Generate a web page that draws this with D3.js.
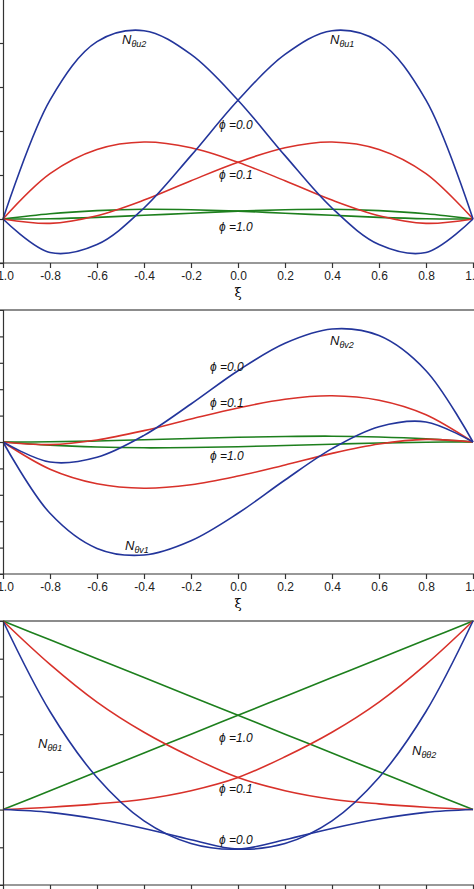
<!DOCTYPE html>
<html><head><meta charset="utf-8">
<script src="https://cdn.jsdelivr.net/npm/d3@7"></script>
<style>body{margin:0;background:#fff}svg{display:block}</style>
</head><body>
<script>
const xi = [-1,-0.8,-0.6,-0.4,-0.2,0,0.2,0.4,0.6,0.8,1];
const xTicks = [-1,-0.8,-0.6,-0.4,-0.2,0,0.2,0.4,0.6,0.8,1];
// panel 1 : N_theta_u2 (N_theta_u1 is its mirror)
const u2_phi00 = [0,0.27,0.403,0.428,0.374,0.27,0.144,0.025,-0.058,-0.076,0];
const u2_phi01 = [0,0.103,0.158,0.175,0.162,0.129,0.087,0.043,0.0075,-0.0099,0];
const u2_phi10 = [0,0.012,0.019,0.022,0.021,0.018,0.013,0.0084,0.0038,0.0007,0];
const u1_phi00 = u2_phi00.slice().reverse();
const u1_phi01 = u2_phi01.slice().reverse();
const u1_phi10 = u2_phi10.slice().reverse();
// panel 2
const v2_phi00 = u1_phi00, v2_phi01 = u1_phi01, v2_phi10 = u1_phi10;
const v1_phi00 = u2_phi00.map(v=>-v), v1_phi01 = u2_phi01.map(v=>-v), v1_phi10 = u2_phi10.map(v=>-v);
// panel 3
const t1_phi00 = [1,0.52,0.17,-0.06,-0.18,-0.21,-0.16,-0.1,-0.05,-0.015,0];
const t1_phi01 = [1,0.77,0.57,0.41,0.28,0.17,0.1,0.055,0.03,0.012,0];
const t1_phi10 = [1,0.9,0.8,0.7,0.6,0.5,0.4,0.3,0.2,0.1,0];
const t2_phi00 = t1_phi00.slice().reverse(), t2_phi01 = t1_phi01.slice().reverse(), t2_phi10 = t1_phi10.slice().reverse();
const yTicks1 = [-0.1,0,0.1,0.2,0.3,0.4];
const yTicks2 = [-0.4,-0.3,-0.2,-0.1,0,0.1,0.2,0.3,0.4];
const yTicks3 = [-0.2,0,0.2,0.4,0.6,0.8];

const BLUE="#23359b", RED="#d8312a", GREEN="#1d7f1d", AX="#333";
const svg=d3.select("body").append("svg").attr("width",474).attr("height",889);
const x=d3.scaleLinear().domain([-1,1]).range([3,473]);
const fmt=d=>d3.format(".1f")(d).replace("−","-");

function panel(cfg){
  const y=d3.scaleLinear().domain(cfg.dom).range(cfg.rng);
  const g=svg.append("g");
  if(cfg.top) g.append("line").attr("x1",0).attr("x2",474).attr("y1",cfg.rng[1]).attr("y2",cfg.rng[1]).attr("stroke","#666").attr("stroke-width",1.5);
  const line=d3.line().x((d,i)=>x(xi[i])).y(d=>y(d)).curve(d3.curveCatmullRom);
  cfg.series.forEach(s=>g.append("path").attr("d",line(s[0])).attr("fill","none").attr("stroke",s[1]).attr("stroke-width",1.6));
  const ya=g.append("g").attr("transform","translate(3,0)").call(d3.axisLeft(y).tickValues(cfg.yt).tickSize(5).tickFormat(""));
  const xa=g.append("g").attr("transform",`translate(0,${cfg.rng[0]})`).call(d3.axisBottom(x).tickValues(xTicks).tickSize(5).tickFormat(fmt));
  [ya,xa].forEach(a=>{a.selectAll("path,line").attr("stroke",AX).attr("stroke-width",1.2);a.selectAll("text").attr("font-family","Liberation Sans, Arial").attr("font-size",12).attr("fill","#222");});
  xa.select(".domain").attr("d",`M0,0H474`);
  if(!cfg.xlabels) xa.selectAll("text").remove();
  if(cfg.xlabels) g.append("text").attr("x",238).attr("y",cfg.rng[0]+34).attr("text-anchor","middle").attr("font-family","DejaVu Serif").attr("font-size",13).text("ξ");
  cfg.labels.forEach(l=>{
    const t=g.append("text").attr("x",l[0]).attr("y",l[1]).attr("font-family","Liberation Sans, Arial").attr("font-style","italic").attr("fill","#111");
    if(l[2]==="N"){t.attr("font-size",13).append("tspan").text("N");t.append("tspan").attr("font-size",9).attr("dy",3).text(l[3]);}
    else t.attr("font-size",12).text("ϕ ="+l[3]);
  });
}
panel({dom:[-0.1,0.5],rng:[263,-1],yt:yTicks1,xlabels:true,top:false,
  series:[[u2_phi10,GREEN],[u1_phi10,GREEN],[u2_phi01,RED],[u1_phi01,RED],[u2_phi00,BLUE],[u1_phi00,BLUE]],
  labels:[[122,44,"N","θu2"],[330,44,"N","θu1"],[219,129,"p","0.0"],[219,179,"p","0.1"],[219,231,"p","1.0"]]});
panel({dom:[-0.5,0.5],rng:[574,310],yt:yTicks2,xlabels:true,top:true,
  series:[[v2_phi10,GREEN],[v1_phi10,GREEN],[v2_phi01,RED],[v1_phi01,RED],[v2_phi00,BLUE],[v1_phi00,BLUE]],
  labels:[[330,345,"N","θv2"],[210,371,"p","0.0"],[210,407,"p","0.1"],[210,460,"p","1.0"],[125,550,"N","θv1"]]});
panel({dom:[-0.4,1],rng:[885,621],yt:yTicks3,xlabels:false,top:true,
  series:[[t1_phi10,GREEN],[t2_phi10,GREEN],[t1_phi01,RED],[t2_phi01,RED],[t1_phi00,BLUE],[t2_phi00,BLUE]],
  labels:[[38,748,"N","θθ1"],[412,755,"N","θθ2"],[219,742,"p","1.0"],[219,793,"p","0.1"],[219,844,"p","0.0"]]});
</script>
</body></html>
